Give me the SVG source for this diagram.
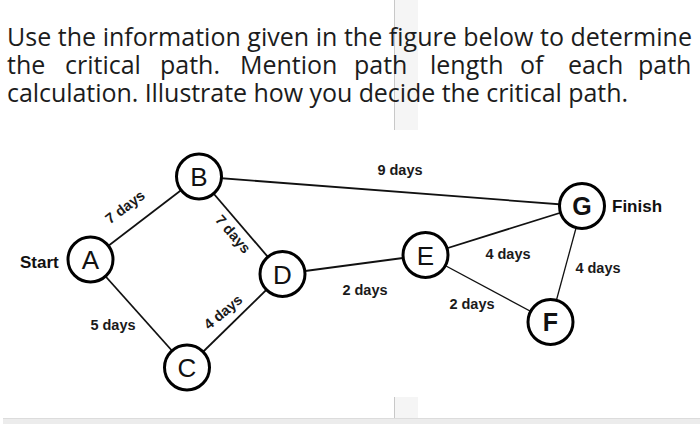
<svg xmlns="http://www.w3.org/2000/svg" width="700" height="424" viewBox="0 0 700 424">
<style>
.title{font-family:"Open Sans",sans-serif;font-size:25px;fill:#1c1c1c}
.node circle{fill:#fff;stroke:#000;stroke-width:3}
.node text{font-family:"Liberation Sans",Arial,sans-serif;font-size:26px;fill:#111;text-anchor:middle}
.node text.b{font-weight:bold;font-size:25px}
.edge line{stroke:#111;stroke-width:1.8}
.lbl{font-family:"Liberation Sans",Arial,sans-serif;font-weight:bold;font-size:14.5px;fill:#1a1a1a;text-anchor:middle}
.side{font-family:"Liberation Sans",Arial,sans-serif;font-weight:bold;font-size:17px;fill:#111}
</style>
<rect width="700" height="424" fill="#fff"/>
<rect x="394" y="0" width="24" height="130" fill="#f5f5f5"/>
<line x1="394.5" y1="0" x2="394.5" y2="130" stroke="#c8c8c8" stroke-width="1"/>
<rect x="394" y="397" width="24" height="21" fill="#f5f5f5"/>
<line x1="394.5" y1="397" x2="394.5" y2="418" stroke="#c8c8c8" stroke-width="1"/>
<rect x="3" y="418" width="697" height="6" fill="#ececec"/>
<line x1="3" y1="418.5" x2="700" y2="418.5" stroke="#dcdcdc" stroke-width="1"/>

<text class="title" x="7" y="46" textLength="685" lengthAdjust="spacing">Use the information given in the figure below to determine</text>
<text class="title" y="74"><tspan x="7">the</tspan><tspan x="65">critical</tspan><tspan x="160">path.</tspan><tspan x="240">Mention</tspan><tspan x="354">path</tspan><tspan x="430">length</tspan><tspan x="520">of</tspan><tspan x="568">each</tspan><tspan x="638">path</tspan></text>
<text class="title" x="7" y="102" textLength="621" lengthAdjust="spacing">calculation. Illustrate how you decide the critical path.</text>

<g id="connectors" class="edge">
<line x1="90.5" y1="259.5" x2="199" y2="176.5"/>
<line x1="199" y1="176.5" x2="582" y2="206"/>
<line x1="199" y1="176.5" x2="282.5" y2="274"/>
<line x1="90.5" y1="259.5" x2="187" y2="367.5"/>
<line x1="187" y1="367.5" x2="282.5" y2="274"/>
<line x1="282.5" y1="274" x2="425.5" y2="255"/>
<line x1="425.5" y1="255" x2="582" y2="206"/>
<line x1="425.5" y1="255" x2="550.5" y2="322" style="stroke-width:1.3"/>
<line x1="550.5" y1="322" x2="582" y2="206" style="stroke-width:1.3"/>
</g>

<g id="edge-labels">
<text class="lbl" transform="translate(125,207) rotate(-37)" y="5">7 days</text>
<text class="lbl" transform="translate(233,234) rotate(49)" y="5">7 days</text>
<text class="lbl" transform="translate(223,312) rotate(-40)" y="5">4 days</text>
<text class="lbl" x="400" y="175">9 days</text>
<text class="lbl" x="113" y="330">5 days</text>
<text class="lbl" x="365" y="295">2 days</text>
<text class="lbl" x="472" y="309">2 days</text>
<text class="lbl" x="508" y="259">4 days</text>
<text class="lbl" x="598" y="273">4 days</text>
</g>

<g id="node-A" class="node"><circle cx="90.5" cy="259.5" r="22.5"/><text x="90.5" y="269">A</text></g>
<g id="node-B" class="node"><circle cx="199" cy="176.5" r="22.5"/><text x="199" y="186">B</text></g>
<g id="node-C" class="node"><circle cx="187" cy="367.5" r="22.5"/><text x="187" y="377">C</text></g>
<g id="node-D" class="node"><circle cx="282.5" cy="274" r="22.5"/><text x="282.5" y="283.5">D</text></g>
<g id="node-E" class="node"><circle cx="425.5" cy="255" r="22.5"/><text x="425.5" y="264.5">E</text></g>
<g id="node-F" class="node"><circle cx="550.5" cy="322" r="22.5"/><text class="b" x="550.5" y="331">F</text></g>
<g id="node-G" class="node"><circle cx="582" cy="206" r="22.5"/><text class="b" x="582" y="215">G</text></g>

<g id="side-labels">
<text class="side" x="20" y="268">Start</text>
<text class="side" x="612" y="212">Finish</text>
</g>
</svg>
